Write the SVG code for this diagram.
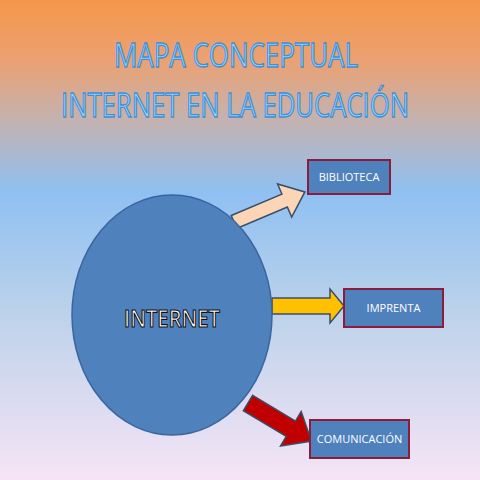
<svg xmlns="http://www.w3.org/2000/svg" width="480" height="480" viewBox="0 0 480 480">
<defs>
<linearGradient id="bg" x1="0" y1="0" x2="0" y2="1">
<stop offset="0" stop-color="#f4974a"/>
<stop offset="0.12" stop-color="#eca070"/>
<stop offset="0.25" stop-color="#c4b2b0"/>
<stop offset="0.4" stop-color="#8fc0f2"/>
<stop offset="0.65" stop-color="#bcd2ea"/>
<stop offset="1" stop-color="#f6e4f6"/>
</linearGradient>
<style>
.title{font-family:"Open Sans","DejaVu Sans",sans-serif;font-size:32px;fill:#9fd3f6;stroke:#3f8fd6;stroke-width:1.3;text-anchor:middle}
.box{fill:#4f81bd;stroke:#8c1c3c;stroke-width:2}
.lbl{font-family:"Open Sans","DejaVu Sans",sans-serif;font-size:11px;fill:#ffffff;text-anchor:middle}
.arrow{stroke:#3a4d66;stroke-width:1.5;stroke-linejoin:miter}
</style>
</defs>
<rect width="480" height="480" fill="url(#bg)"/>
<g id="title">
<text class="title" x="236" y="67" textLength="244" lengthAdjust="spacingAndGlyphs">MAPA CONCEPTUAL</text>
<text class="title" x="235" y="117" textLength="348" lengthAdjust="spacingAndGlyphs">INTERNET EN LA EDUCACIÓN</text>
</g>
<g id="connectors">
<polygon class="arrow" fill="#fbd5b5" transform="translate(234,222) rotate(-23)" points="0,-7 55,-7 55,-18 77,0 55,18 55,7 0,7"/>
<polygon class="arrow" fill="#ffc000" points="272,298 330,298 330,289 344,306 330,323 330,314 272,314"/>
<polygon class="arrow" fill="#c00000" transform="translate(248,403) rotate(31)" points="0,-9 50,-9 50,-20 74,0 50,20 50,9 0,9"/>
</g>
<g id="internet">
<ellipse cx="172" cy="315" rx="100" ry="120" fill="#4f81bd" stroke="#3a66a0" stroke-width="1.5"/>
<text x="172" y="327" font-family="Open Sans, DejaVu Sans, sans-serif" font-size="24" font-weight="600" fill="#ffffff" stroke="#111111" stroke-width="1.2" text-anchor="middle" textLength="96" lengthAdjust="spacingAndGlyphs">INTERNET</text>
</g>
<g id="biblioteca">
<rect class="box" x="308" y="160" width="82" height="34"/>
<text class="lbl" x="349" y="181">BIBLIOTECA</text>
</g>
<g id="imprenta">
<rect class="box" x="344" y="289" width="99" height="38"/>
<text class="lbl" x="393.5" y="312">IMPRENTA</text>
</g>
<g id="comunicacion">
<rect class="box" x="310" y="420" width="99" height="38"/>
<text class="lbl" x="359.5" y="443">COMUNICACIÓN</text>
</g>
</svg>
